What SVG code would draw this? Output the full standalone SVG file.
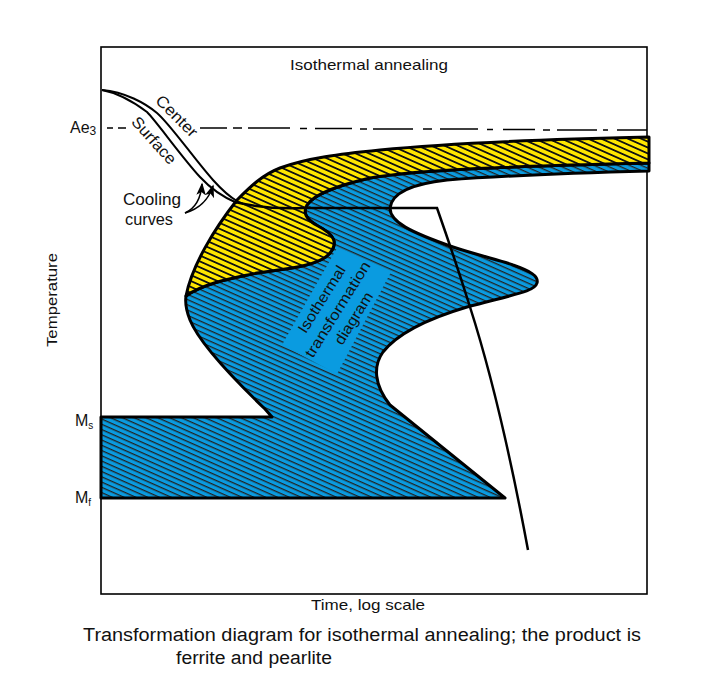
<svg xmlns="http://www.w3.org/2000/svg" width="705" height="688" viewBox="0 0 705 688">
<style>
text{font-family:"Liberation Sans",Arial,sans-serif;fill:#111}
.lb{font-size:15px}
.ln{fill:none;stroke:#000;stroke-width:2}
.th{stroke:#000;stroke-width:3;stroke-linejoin:round}
</style>
<defs>
<pattern id="hy" width="12" height="5.4" patternUnits="userSpaceOnUse" patternTransform="rotate(24)">
<rect width="12" height="5.4" fill="#ffe600"/><rect width="12" height="1.8" fill="#111"/>
</pattern>
<pattern id="hb" width="12" height="4.8" patternUnits="userSpaceOnUse" patternTransform="rotate(24)">
<rect width="12" height="4.8" fill="#0a9be0"/><rect width="12" height="1.3" fill="#222"/>
</pattern>
<marker id="ah" markerWidth="9" markerHeight="9" refX="7" refY="3" orient="auto"><path d="M0 0L8 3L0 6L2 3Z" fill="#000"/></marker>
</defs>
<rect width="705" height="688" fill="#fff"/>
<g id="frame"><rect x="101" y="47" width="546" height="547" fill="none" stroke="#000" stroke-width="1.6"/></g>
<g id="blue-region">
<path class="th" fill="url(#hb)" d="M649 171C570 173 500 176 447 180C420 183 392 190 390 208C390 222 410 232 453 247C480 256 500 260 513 265C530 271 539 276 537 283C535 291 520 293 467 307C430 318 398 333 383 352C373 366 374 385 390 405L505 498L101 498L101 417L272 417L265 409C240 385 200 345 190 320C186 310 185 303 186 296C205 282 240 277 257 273C285 269 320 266 330 253C338 243 335 235 318 226C305 219 303 212 307 205C315 193 340 185 370 178C430 168 540 166 649 163Z"/>
</g>
<g id="yellow-region">
<path class="th" fill="url(#hy)" d="M649 137C560 139 450 143 380 150C340 154 307 158 280 168C262 175 250 187 237 200C215 228 192 265 186 296C205 282 240 277 257 273C285 269 320 266 330 253C338 243 335 235 318 226C305 219 303 212 307 205C315 193 340 185 370 178C430 168 540 166 649 163Z"/>
</g>
<g id="label-patch">
<path d="M337 248L391 272L337 374L282 345Z" fill="#0a9be0"/>
<text class="lb" transform="translate(326 302) rotate(-58)" text-anchor="middle" textLength="76" lengthAdjust="spacingAndGlyphs">Isothermal</text>
<text class="lb" transform="translate(342 312) rotate(-58)" text-anchor="middle" textLength="110" lengthAdjust="spacingAndGlyphs">transformation</text>
<text class="lb" transform="translate(358 321) rotate(-58)" text-anchor="middle" textLength="59" lengthAdjust="spacingAndGlyphs">diagram</text>
</g>
<g id="connectors">
<path d="M107 128H113M118 128H126M200 128H227M233 128H242M248 128H290M300 128.500H307M315 128.500H352M360 129H367M373 129H413M423 129H432M440 129H478M487 129.500H493M503 129.500H535M543 130H550M557 130H597M603 130H608M617 130H647" fill="none" stroke="#000" stroke-width="1.6"/>
<path class="ln" d="M102 90C125 92 145 103 157 113C170 124 195 160 213 180C222 190 230 197 237 201"/>
<path class="ln" d="M102 90C118 93 135 103 147 112C157 122 180 155 200 177C212 190 225 198 237 203"/>
<path class="ln" style="stroke-width:2.5" d="M235 202C260 208 280 209 303 208L437 208C450 245 460 275 470 307C495 385 515 480 528 550"/>
<path class="ln" style="stroke-width:1.6" marker-end="url(#ah)" d="M185 213C196 208 201 197 202 184"/>
<path class="ln" style="stroke-width:1.6" marker-end="url(#ah)" d="M185 213C202 208 209 198 213 186"/>
</g>
<g id="labels">
<text x="290" y="70" font-size="15" textLength="158" lengthAdjust="spacingAndGlyphs">Isothermal annealing</text>
<text x="70" y="133" font-size="16">Ae<tspan font-size="12" dy="2">3</tspan></text>
<text x="75" y="426" font-size="16">M<tspan font-size="10" dy="3">s</tspan></text>
<text x="75" y="503" font-size="16">M<tspan font-size="10" dy="3">f</tspan></text>
<text transform="translate(57 300) rotate(-90)" text-anchor="middle" font-size="15" textLength="94" lengthAdjust="spacingAndGlyphs">Temperature</text>
<text transform="translate(173 120) rotate(45)" text-anchor="middle" font-size="16" textLength="52" lengthAdjust="spacingAndGlyphs">Center</text>
<text transform="translate(150 144) rotate(48)" text-anchor="middle" font-size="16" textLength="58" lengthAdjust="spacingAndGlyphs">Surface</text>
<text x="152" y="205" text-anchor="middle" font-size="16" textLength="58" lengthAdjust="spacingAndGlyphs">Cooling</text>
<text x="149" y="225" text-anchor="middle" font-size="16" textLength="48" lengthAdjust="spacingAndGlyphs">curves</text>
<text x="368" y="610" text-anchor="middle" font-size="15" textLength="114" lengthAdjust="spacingAndGlyphs">Time, log scale</text>
<text x="83" y="641" font-size="18" textLength="558" lengthAdjust="spacingAndGlyphs">Transformation diagram for isothermal annealing; the product is</text>
<text x="176" y="664" font-size="18" textLength="156" lengthAdjust="spacingAndGlyphs">ferrite and pearlite</text>
</g>
</svg>
